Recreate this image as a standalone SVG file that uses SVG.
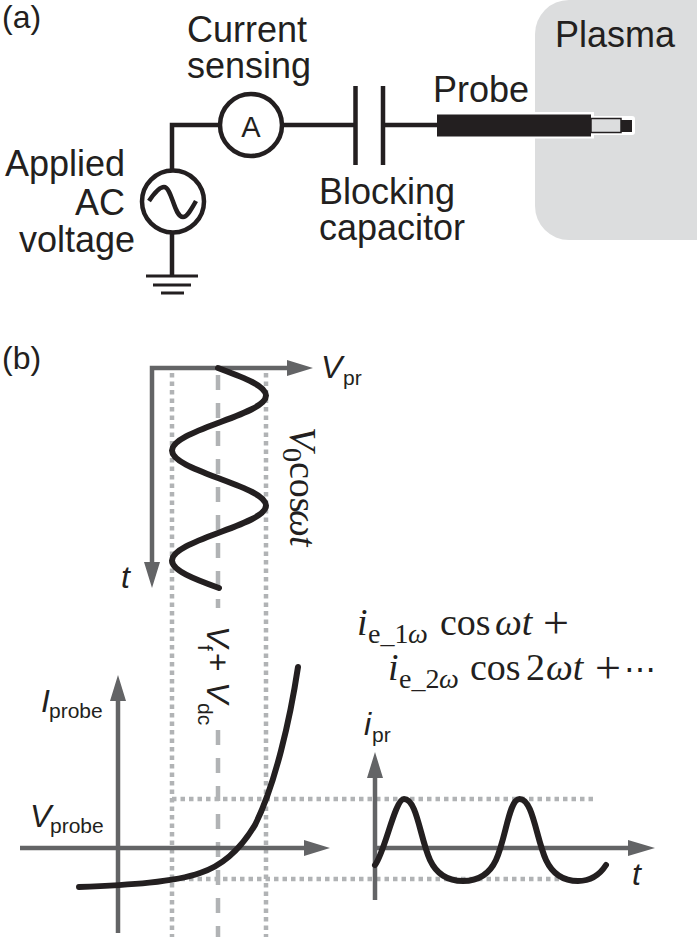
<svg xmlns="http://www.w3.org/2000/svg" width="697" height="937" viewBox="0 0 697 937">
<style>
text{font-family:"Liberation Sans",Arial,sans-serif;fill:#231f20}
.l{font-size:36px}
.p{font-size:32px}
.ax{font-size:32px;font-style:italic}
.sub{font-size:21px;font-style:normal}
.m{font-family:"Liberation Serif","Times New Roman",serif;font-size:38px}
.ms{font-size:28px}
.pl{font-size:46px}
.i{font-style:italic}
.w{fill:none;stroke:#231f20;stroke-width:4.5}
.g{fill:none;stroke:#231f20;stroke-width:3}
.c{fill:none;stroke:#231f20;stroke-width:6;stroke-linecap:round;stroke-linejoin:round}
.a{fill:none;stroke:#636466;stroke-width:4.5}
.h{fill:#636466}
.dot{fill:none;stroke:#b1b3b5;stroke-width:4.5;stroke-dasharray:4.5 4}
.dash{fill:none;stroke:#b1b3b5;stroke-width:4.5;stroke-dasharray:15 13}
</style>
<rect width="697" height="937" fill="#fff"/>
<g id="plasma"><rect x="535" y="0" width="220" height="240" rx="34" fill="#dcddde"/><text class="l" x="555" y="47">Plasma</text></g>
<g id="connectors">
<path class="w" d="M172 170V125H220M283 125H355M383 125H437M172 233V276"/>
</g>
<text class="p" x="2" y="28">(a)</text>
<g id="current-sensing"><circle class="w" cx="251" cy="125" r="31"/><text x="251" y="137" font-size="29" text-anchor="middle">A</text>
<text class="l"><tspan x="187" y="42">Current</tspan><tspan x="187" y="78">sensing</tspan></text></g>
<g id="ac-source"><circle class="w" cx="173" cy="201.500" r="31"/><path class="w" d="M149 201C155 192 160 187 164 187C172 187 174 217 183 217C187 217 191 210 196 201"/>
<text class="l" x="5" y="176">Applied</text><text class="l" x="125" y="215" text-anchor="end">AC</text><text class="l" x="135" y="252" text-anchor="end">voltage</text></g>
<g id="ground"><path class="g" d="M146 276H198M153 285H191M161 293H184"/></g>
<g id="capacitor"><path class="w" d="M355.500 86V165M383 86V165"/><text class="l"><tspan x="319" y="204">Blocking</tspan><tspan x="319" y="240">capacitor</tspan></text></g>
<g id="probe">
<path d="M535 112H594V116H632Q635 116 635 119V132Q635 135 632 135H594V138.500H535Z" fill="#fff"/>
<rect x="437" y="114.500" width="154" height="22" fill="#231f20"/>
<rect x="591" y="118.500" width="30" height="14" fill="#dcddde" stroke="#231f20" stroke-width="1.500"/>
<rect x="621" y="120" width="11" height="12" fill="#231f20"/>
<text class="l" x="433" y="102">Probe</text></g>

<text class="p" x="2" y="369">(b)</text>
<g id="guides">
<path class="dot" d="M172 373V937M266 373V937M172 799H595M172 879H563"/>
<path class="dash" d="M218 375V608M218 730V937"/>
</g>
<g id="top-plot">
<path class="a" d="M289 368H152V564"/>
<path class="h" d="M313 368L287 360V376ZM152 588L144 562H160Z"/>
<path class="c" d="M218 368C242 377 266 385.500 266 395.500C266 405.500 242 414 218 423C194 432 172 440.500 172 450.500C172 460.500 194 469 218 478C242 487 266 495.500 266 505.500C266 515.500 242 524 218 533C194 542 172 550.500 172 560.500C172 570.500 194 579 219 588"/>
<text class="ax" x="321" y="378">V</text><text class="sub" x="343" y="385">pr</text>
<text class="ax" x="121" y="588">t</text>
<text class="m" transform="translate(290 427) rotate(90)"><tspan class="i" x="0" y="0">V</tspan><tspan class="ms" x="21" y="7">0</tspan><tspan x="35" y="0">cos</tspan><tspan class="i" x="83" y="0">ω</tspan><tspan class="i" x="109" y="0">t</tspan></text>
<text transform="translate(207 626) rotate(90)"><tspan class="ax" x="0" y="0">V</tspan><tspan class="sub" x="19" y="9">f</tspan><tspan class="p" x="27" y="0">+</tspan><tspan class="ax" x="56" y="0">V</tspan><tspan class="sub" x="77" y="9">dc</tspan></text>
</g>
<g id="iv-plot">
<path class="a" d="M118 933V699M20 848H306"/>
<path class="h" d="M118 675L110 701H126ZM330 848L304 840V856Z"/>
<path class="c" d="M79 887C130 885 175 882 200 873C225 865 243 845 255 825C275 785 290 720 298 667"/>
<text class="ax" x="41" y="712">I</text><text class="sub" x="49" y="718">probe</text>
<text class="ax" x="30" y="827">V</text><text class="sub" x="50" y="833">probe</text>
</g>
<g id="formula">
<text class="m"><tspan class="i" x="357" y="635">i</tspan><tspan class="ms" x="368" y="643">e_1</tspan><tspan class="ms i" x="408" y="643">ω</tspan><tspan x="440" y="635">cos</tspan><tspan class="i" x="495" y="635">ωt</tspan><tspan class="pl" x="543" y="638">+</tspan></text>
<text class="m"><tspan class="i" x="388" y="680">i</tspan><tspan class="ms" x="399" y="688">e_2</tspan><tspan class="ms i" x="439" y="688">ω</tspan><tspan x="470" y="680">cos</tspan><tspan x="526" y="680">2</tspan><tspan class="i" x="546" y="680">ωt</tspan><tspan class="pl" x="595" y="683">+</tspan><tspan x="624" y="680" font-size="32">⋯</tspan></text>
</g>
<g id="ipr-plot">
<path class="a" d="M375 900V775M375 848H630"/>
<path class="h" d="M375 752L367 778H383ZM655 848L628 840V856Z"/>
<path class="c" d="M375 865C385 852 395 799 404 799C417 799 420 838 430 860C437 875 448 881 463 881C478 881 489 875 496 860C506 838 509 799 519.500 799C533 799 536 838 546 860C553 875 564 881 578 881C590 881 599 876 606 865"/>
<text class="ax" x="364" y="735" font-size="30">i</text><text class="sub" x="372" y="742">pr</text>
<text class="ax" x="632" y="885">t</text>
</g>
</svg>
